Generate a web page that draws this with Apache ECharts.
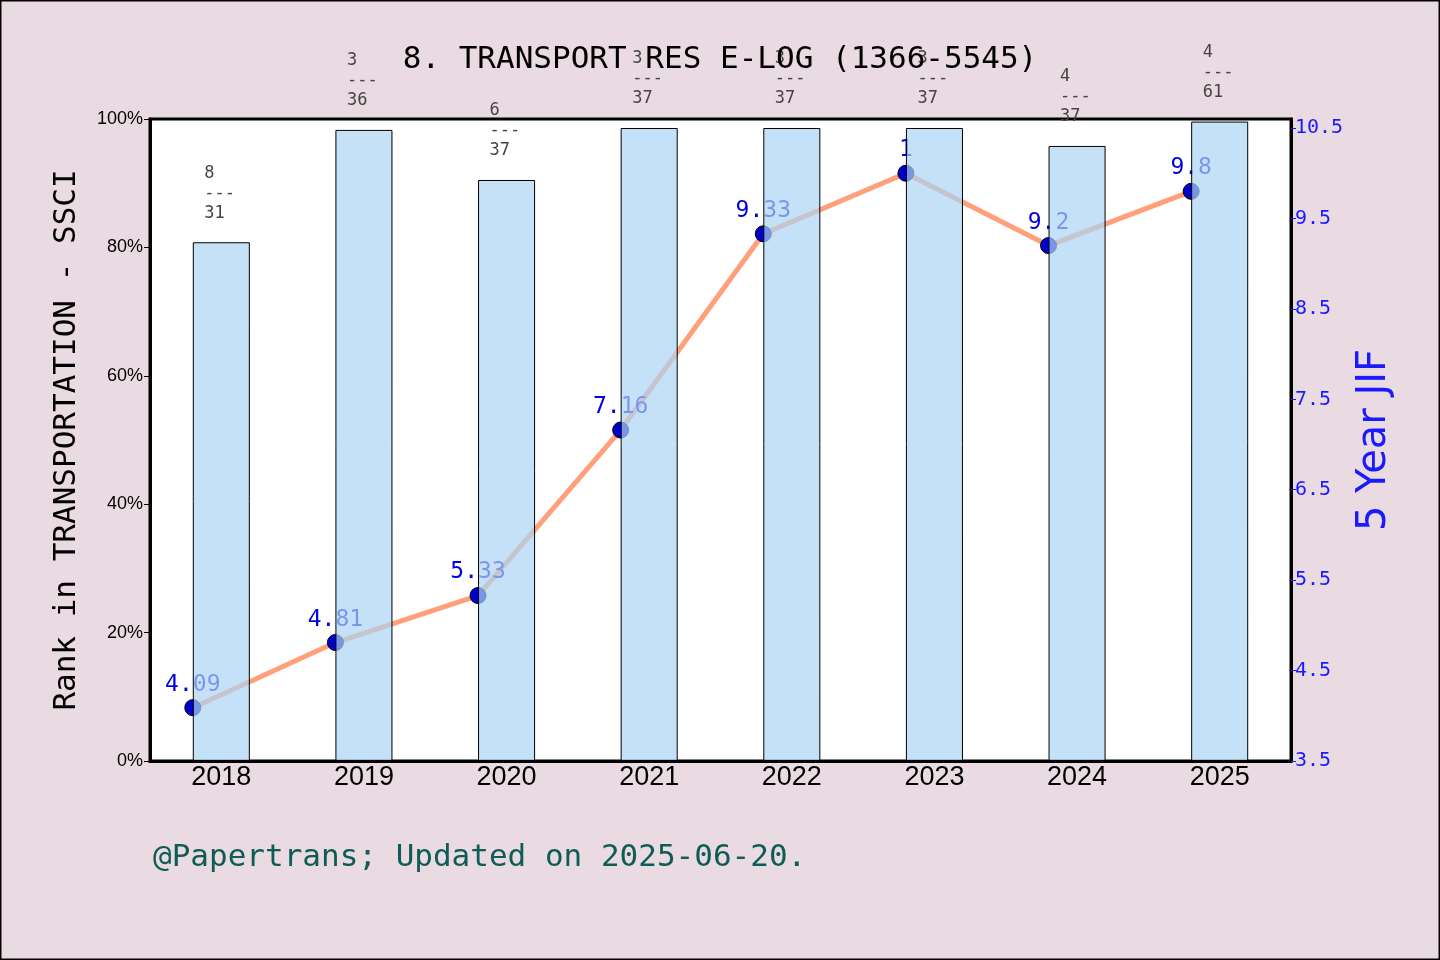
<!DOCTYPE html>
<html>
<head>
<meta charset="utf-8">
<title>TRANSPORT RES E-LOG</title>
<script src="https://cdn.jsdelivr.net/npm/echarts@6/dist/echarts.min.js"></script>
<style>
    html, body { margin: 0; padding: 0; background: #eadae2; }
    #chart { width: 1440px; height: 960px; }
</style>
</head>
<body>
<div id="chart"></div>
<script>
    // 年份（类目轴）
    const years = ['2018', '2019', '2020', '2021', '2022', '2023', '2024', '2025']
    // 排名百分位（柱子，左轴）
    const rankPercent = [80.8, 98.3, 90.5, 98.6, 98.6, 98.6, 95.8, 99.6]
    // 排名 / 总数（柱顶标签）
    const rankPos = [8, 3, 6, 3, 3, 3, 4, 4]
    const rankTotal = [31, 36, 37, 37, 37, 37, 37, 61]
    // 5年影响因子（折线，右轴）
    const jifValues = [4.09, 4.81, 5.33, 7.16, 9.33, 10.0, 9.2, 9.8]
    const jifLabels = ['4.09', '4.81', '5.33', '7.16', '9.33', '1', '9.2', '9.8']

    const barRatio = 0.4          // 柱宽占类目宽度
    const lineShift = barRatio / 2 // 折线点落在柱子左边缘

    const mono = '"DejaVu Sans Mono", monospace'
    const chartInstance = echarts.init(document.getElementById('chart'))

    const option = {
        animation: false,
        backgroundColor: '#eadae2',
        title: [
            {
                text: '8. TRANSPORT RES E-LOG (1366-5545)',
                left: 'center',
                top: 39,
                textStyle: { fontFamily: mono, fontSize: 31, fontWeight: 'normal', color: '#000' }
            },
            {
                text: '@Papertrans; Updated on 2025-06-20.',
                left: 148,
                top: 837,
                textStyle: { fontFamily: mono, fontSize: 31, fontWeight: 'normal', color: '#0e5c55' }
            }
        ],
        graphic: [{
            type: 'rect',
            silent: true,
            shape: { x: 0.5, y: 0.5, width: 1439, height: 959 },
            style: { fill: 'none', stroke: '#000', lineWidth: 2 }
        }],
        grid: {
            left: 150,
            right: 149,
            top: 119,
            bottom: 199,
            show: true,
            backgroundColor: '#fff',
            borderColor: '#000',
            borderWidth: 3
        },
        xAxis: [
            {
                type: 'category',
                data: years,
                boundaryGap: true,
                axisLine: { onZero: false, lineStyle: { color: '#000', width: 3 } },
                axisTick: { inside: true, length: 6, lineStyle: { color: '#000' } },
                axisLabel: { fontFamily: '"Liberation Sans", sans-serif', fontSize: 27, color: '#000', margin: 3 }
            },
            {
                // 折线专用的数值轴，用于把点移到柱子左边缘
                type: 'value',
                min: -0.5,
                max: years.length - 0.5,
                show: false
            }
        ],
        yAxis: [
            {
                type: 'value',
                position: 'left',
                min: 0,
                max: 100,
                interval: 20,
                name: 'Rank in TRANSPORTATION - SSCI',
                nameLocation: 'middle',
                nameRotate: 90,
                nameGap: 68,
                nameTextStyle: { fontFamily: mono, fontSize: 31, color: '#000' },
                axisLine: { show: true, onZero: false, lineStyle: { color: '#000', width: 3 } },
                axisTick: { show: true, length: 6, lineStyle: { color: '#000' } },
                axisLabel: { formatter: '{value}%', fontFamily: '"Liberation Sans", sans-serif', fontSize: 18, color: '#000', margin: 7 },
                splitLine: { show: false }
            },
            {
                type: 'value',
                position: 'right',
                min: 3.5,
                max: 10.6,
                interval: 1,
                name: '5 Year JIF',
                nameLocation: 'middle',
                nameRotate: 90,
                nameGap: 64,
                nameTextStyle: { fontFamily: '"DejaVu Sans", sans-serif', fontSize: 40, color: '#1a1aff' },
                axisLine: { show: true, onZero: false, lineStyle: { color: '#000', width: 3 } },
                axisTick: { show: true, length: 5, lineStyle: { color: '#1a1aff' } },
                axisLabel: { showMaxLabel: false, fontFamily: mono, fontSize: 20, color: '#1a1aff', margin: 4 },
                splitLine: { show: false }
            }
        ],
        series: [
            {
                type: 'line',
                xAxisIndex: 1,
                yAxisIndex: 1,
                z: 2,
                data: jifValues.map((v, i) => [i - lineShift, v]),
                lineStyle: { color: '#ffa07a', width: 5 },
                symbol: 'circle',
                symbolSize: 16,
                itemStyle: { color: '#0000cd', borderColor: '#000', borderWidth: 1 },
                label: {
                    show: true,
                    position: 'top',
                    distance: 3,
                    formatter: (p) => jifLabels[p.dataIndex],
                    fontFamily: mono,
                    fontSize: 23,
                    color: '#0000e0'
                }
            },
            {
                type: 'bar',
                xAxisIndex: 0,
                yAxisIndex: 0,
                z: 3,
                barWidth: barRatio * 100 + '%',
                data: rankPercent,
                itemStyle: { color: 'rgba(172,212,243,0.7)', borderColor: '#000', borderWidth: 1 },
                label: {
                    show: true,
                    position: 'top',
                    distance: 19,
                    align: 'left',
                    offset: [-17, 0],
                    lineHeight: 20,
                    formatter: (p) => rankPos[p.dataIndex] + '\n---\n' + rankTotal[p.dataIndex],
                    fontFamily: mono,
                    fontSize: 17,
                    color: '#444'
                }
            }
        ]
    }

    chartInstance.setOption(option)
</script>
</body>
</html>
